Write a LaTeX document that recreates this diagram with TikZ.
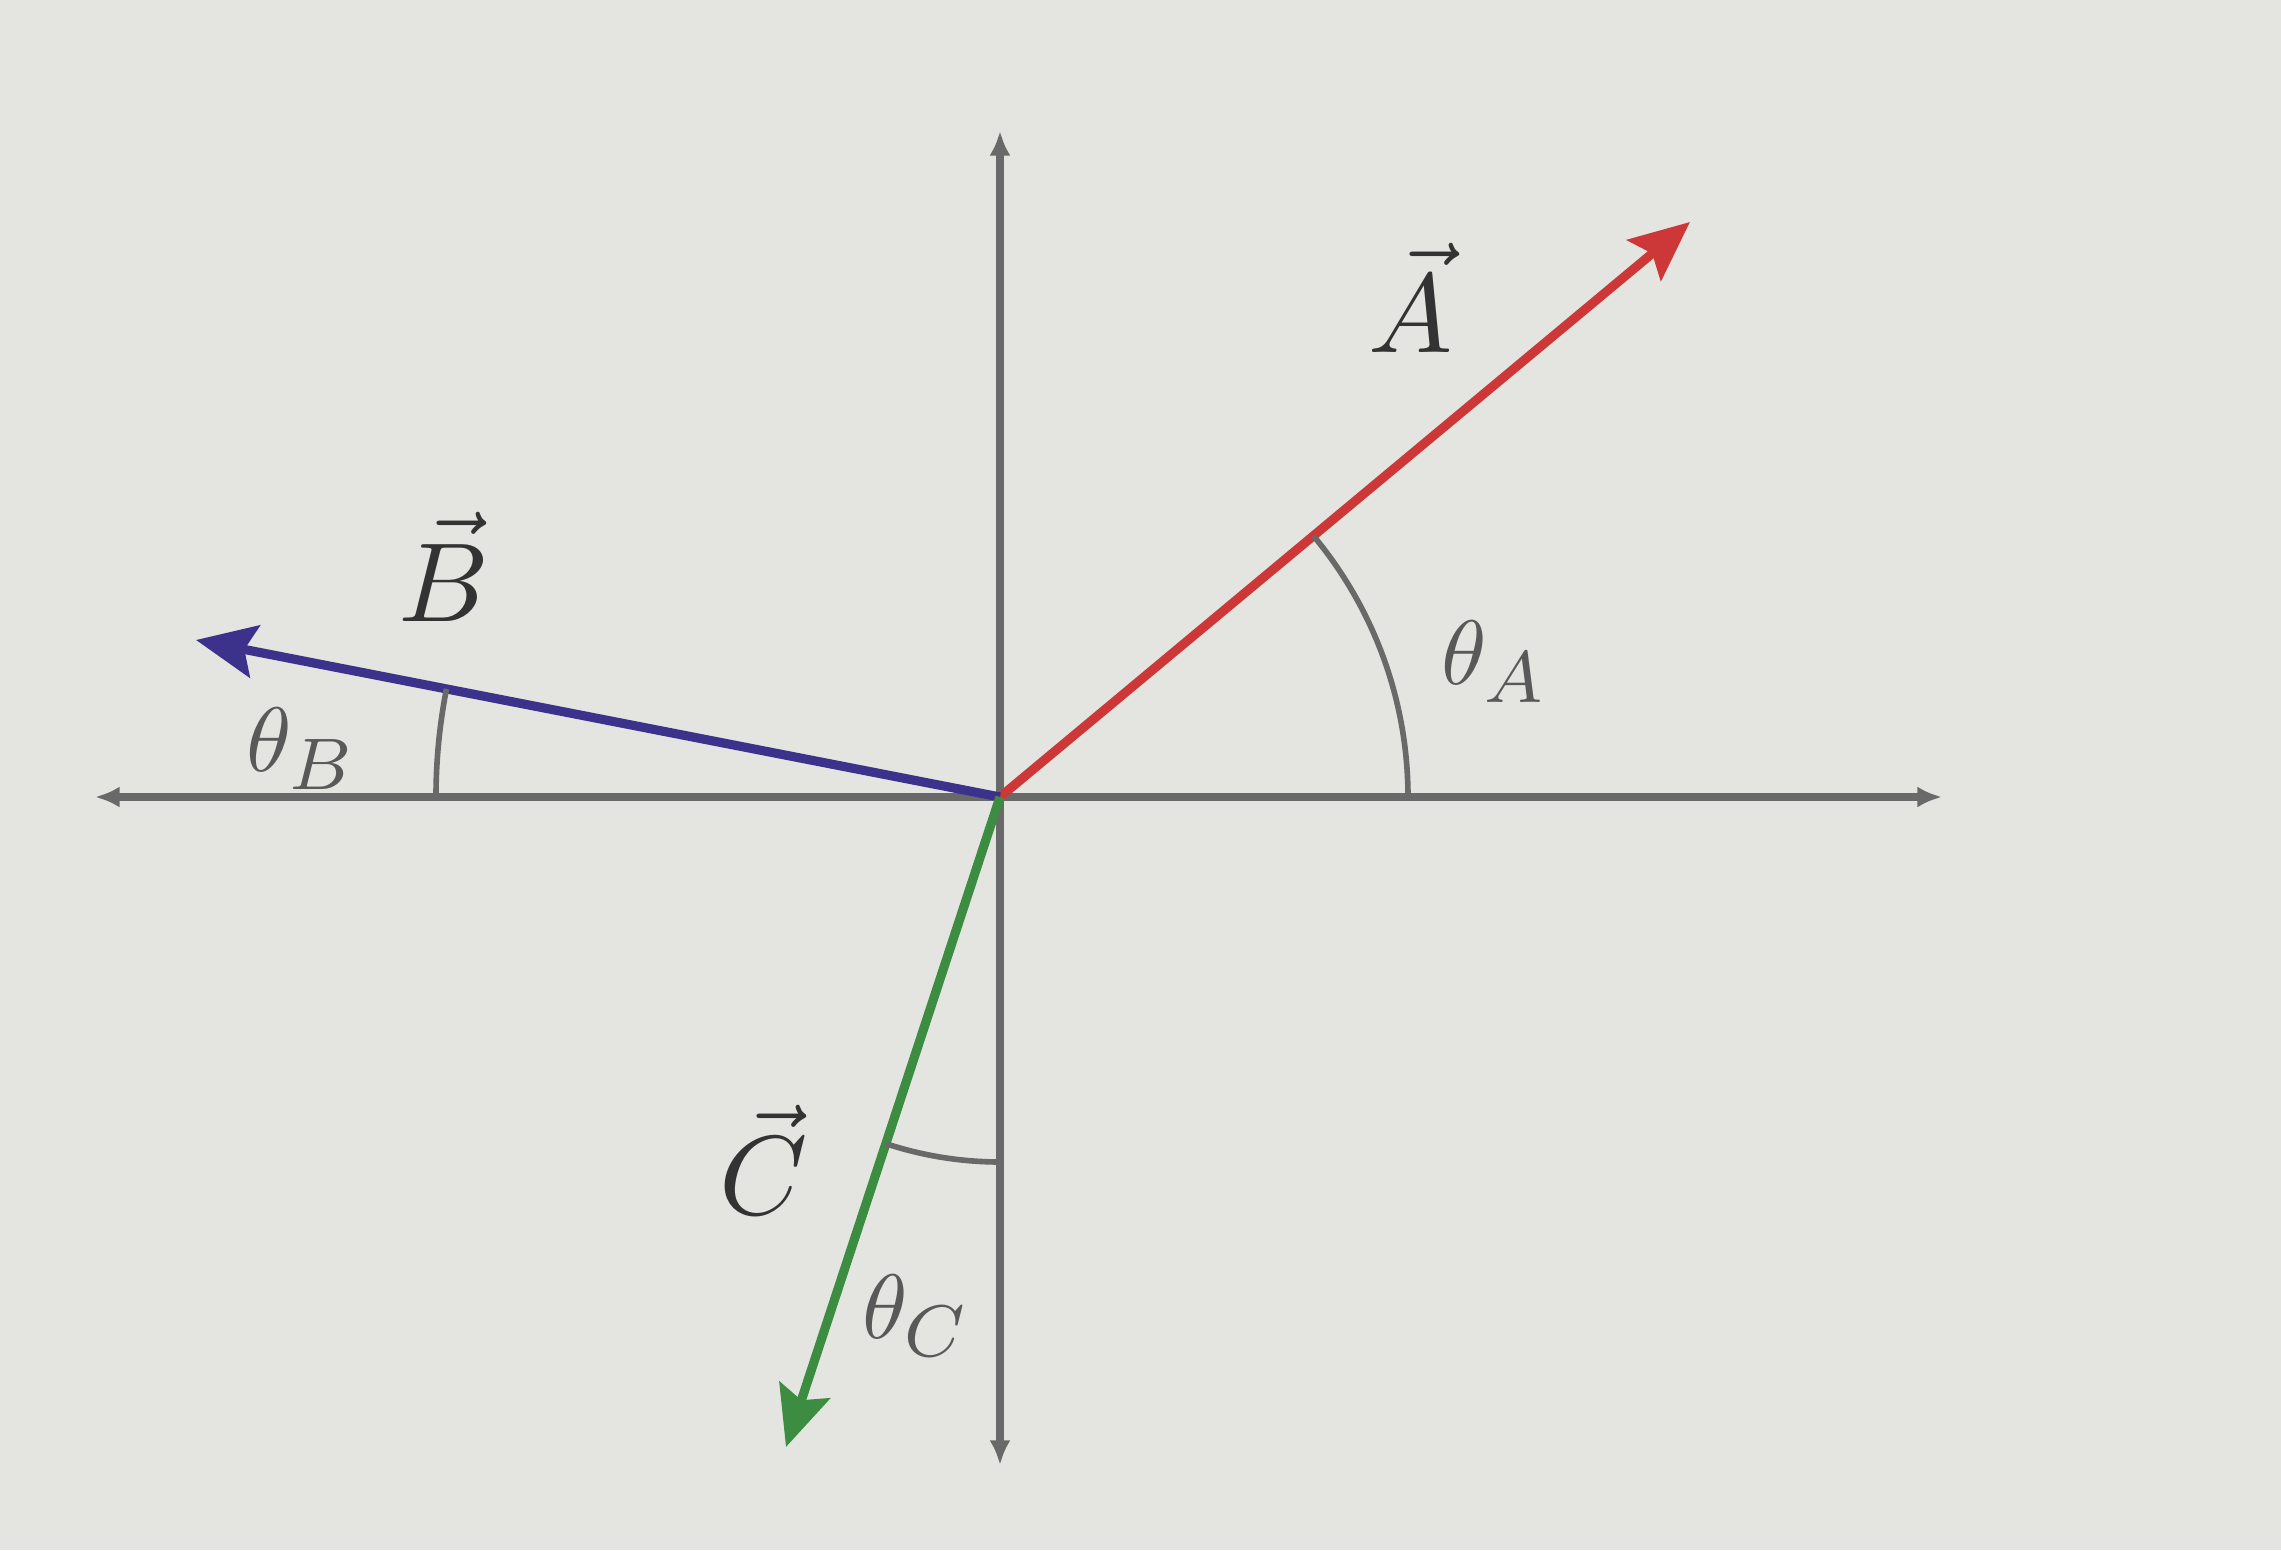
\documentclass[tikz,border=0pt]{standalone}
\usetikzlibrary{arrows.meta,angles}
\DeclareMathSizes{10}{10}{8.5}{7}
\definecolor{paper}{RGB}{228,229,224}
\definecolor{axisgray}{RGB}{105,105,105}
\definecolor{vecred}{RGB}{205,55,55}
\definecolor{vecblue}{RGB}{60,50,140}
\definecolor{vecgreen}{RGB}{60,140,65}
\begin{document}
\begin{tikzpicture}[
  axis_line/.style={draw=axisgray, line width=2.2pt, {Latex[length=7pt,width=6pt]}-{Latex[length=7pt,width=6pt]}},
  vec_arrow/.style={line width=2.6pt, -{Stealth[length=17pt,width=15pt,inset=3pt]}},
  angle_arc/.style={draw=axisgray, line width=1.6pt},
  vec_label/.style={inner sep=0pt, text=black!80, scale=3.2},
  angle_label/.style={inner sep=0pt, text=black!65, scale=2.6},
]
\fill[paper] (-10.00,-7.53) rectangle (12.81,7.97);
\coordinate (O) at (0,0);
\coordinate (xl) at (-9.05,0);
\coordinate (xr) at (9.42,0);
\coordinate (yt) at (0,6.66);
\coordinate (yb) at (0,-6.68);
\coordinate (A) at (6.90,5.75);
\coordinate (B) at (-8.04,1.57);
\coordinate (C) at (-2.14,-6.50);
\draw[axis_line] (xl) -- (xr);
\draw[axis_line] (yb) -- (yt);
\draw[vec_arrow, vecred] (O) -- (A);
\draw[vec_arrow, vecblue] (O) -- (B);
\draw[vec_arrow, vecgreen] (O) -- (C);
\pic[angle_arc, angle radius=4.08cm] {angle = xr--O--A};
\pic[angle_arc, angle radius=5.64cm] {angle = B--O--xl};
\pic[angle_arc, angle radius=3.65cm] {angle = C--O--yb};
\draw (4.11,4.99) node (lblA) [vec_label] {$\vec{A}$};
\draw (-5.56,2.30) node (lblB) [vec_label] {$\vec{B}$};
\draw (-2.36,-3.63) node (lblC) [vec_label] {$\vec{C}$};
\draw (4.94,1.35) node (thA) [angle_label] {$\theta_A$};
\draw (-6.99,0.48) node (thB) [angle_label] {$\theta_B$};
\draw (-0.84,-5.19) node (thC) [angle_label] {$\theta_C$};
\end{tikzpicture}
\end{document}
